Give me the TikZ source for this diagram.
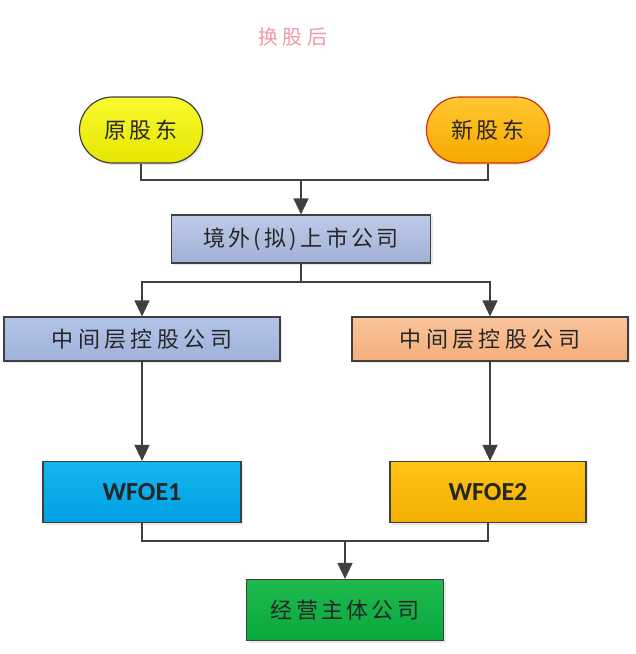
\documentclass[tikz,border=0pt]{standalone}
\usepackage{fontspec}
\newfontfamily\cjk[LetterSpace=15]{Noto Sans CJK SC}
\newfontfamily\cjkm[LetterSpace=20]{Noto Sans CJK SC}
\newfontfamily\cjkt[LetterSpace=22]{Noto Sans CJK SC}
\newfontfamily\latinb{Carlito}
\usetikzlibrary{arrows.meta,shadows,shapes.misc}
\definecolor{linec}{HTML}{3F3F3F}
\definecolor{titlec}{HTML}{F09AAC}
\definecolor{ylt}{HTML}{FAFA30}\definecolor{ydk}{HTML}{E6E600}
\definecolor{olt}{HTML}{FFC830}\definecolor{odk}{HTML}{F7A800}\definecolor{ord}{HTML}{D03010}
\definecolor{blt}{HTML}{BECAE8}\definecolor{bdk}{HTML}{A0B0D6}
\definecolor{mlt}{HTML}{B4C4E8}\definecolor{mdk}{HTML}{A0B2DA}
\definecolor{plt}{HTML}{FAC49C}\definecolor{pdk}{HTML}{F4AE7A}
\definecolor{w1lt}{HTML}{14B6F0}\definecolor{w1dk}{HTML}{00A0E2}
\definecolor{w2lt}{HTML}{FFC414}\definecolor{w2dk}{HTML}{F0B000}
\definecolor{glt}{HTML}{1EBA50}\definecolor{gdk}{HTML}{0AA83C}
\tikzset{
  conn/.style={draw=linec,line width=1.4pt},
  arr/.style={conn,-{Triangle[length=16pt,width=15pt]}},
  boxbase/.style={draw=linec,line width=1.2pt,rectangle,inner sep=0pt,
    font=\cjk\fontsize{22}{24}\selectfont,text=black!85,
    drop shadow={shadow xshift=2pt,shadow yshift=-2pt,fill=black!15,opacity=0.6}},
  pill/.style={boxbase,rounded rectangle},
  midbox/.style={boxbase,font=\cjkm\fontsize{22}{24}\selectfont},
  wfoe/.style={boxbase,font=\latinb\bfseries\fontsize{26}{28}\selectfont},
}
\begin{document}
\begin{tikzpicture}[x=1pt,y=-1pt]
\useasboundingbox[fill=white] (0,0) rectangle (636,654);
\node[font=\cjkt\fontsize{20}{22}\selectfont,text=titlec] (title) at (293,37) {换股后};

\node[pill,minimum width=123pt,minimum height=66pt,top color=ylt,bottom color=ydk,draw=black!75] (old) at (141,130) {原股东};
\node[pill,minimum width=123pt,minimum height=66pt,top color=olt,bottom color=odk,draw=ord] (new) at (488,130) {新股东};

\node[boxbase,minimum width=259pt,minimum height=48pt,top color=blt,bottom color=bdk] (list) at (301,239) {境外(拟)上市公司};

\node[midbox,minimum width=276pt,minimum height=44pt,top color=mlt,bottom color=mdk] (midl) at (142,339) {中间层控股公司};
\node[midbox,minimum width=276pt,minimum height=44pt,top color=plt,bottom color=pdk] (midr) at (490,339) {中间层控股公司};

\node[wfoe,minimum width=198pt,minimum height=61pt,top color=w1lt,bottom color=w1dk] (w1) at (142,492) {WFOE1};
\node[wfoe,minimum width=196pt,minimum height=61pt,top color=w2lt,bottom color=w2dk] (w2) at (488,492) {WFOE2};

\node[boxbase,minimum width=197pt,minimum height=61pt,top color=glt,bottom color=gdk] (op) at (345,610) {经营主体公司};

\coordinate (j1) at (301,180);
\coordinate (j2) at (301,282);
\coordinate (j3) at (345,541);

\draw[conn] (old.south) |- (j1) -| (new.south);
\draw[arr] (j1) -- (list.north);

\draw[conn] (list.south) -- (j2);
\draw[arr] (j2) -| (midl.north);
\draw[arr] (j2) -| (midr.north);

\draw[arr] (midl.south) -- (midl.south |- w1.north);
\draw[arr] (midr.south) -- (midr.south |- w2.north);

\draw[conn] (w1.south) |- (j3) -| (w2.south);
\draw[arr] (j3) -- (op.north);
\end{tikzpicture}
\end{document}
